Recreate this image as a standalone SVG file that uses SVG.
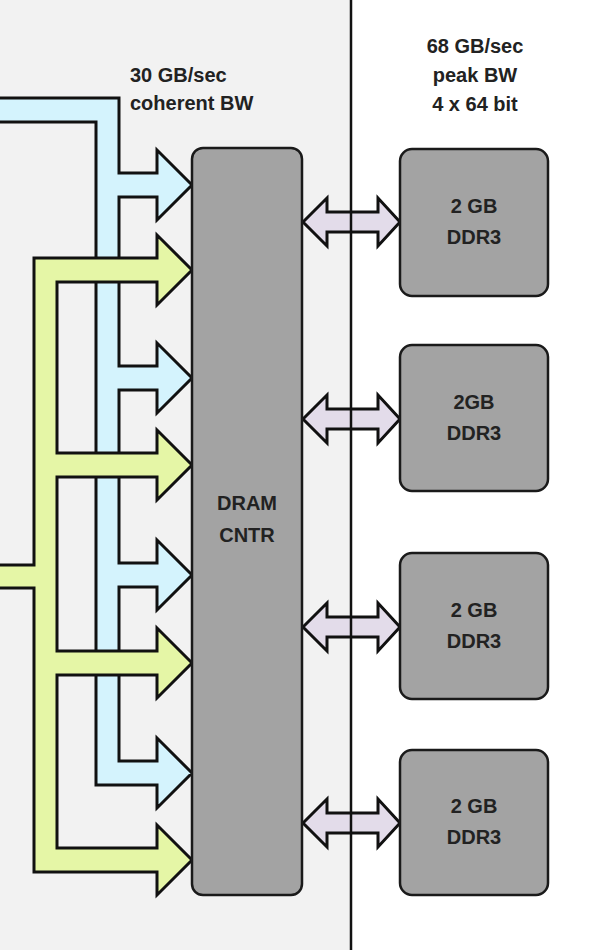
<svg xmlns="http://www.w3.org/2000/svg" width="600" height="950" viewBox="0 0 600 950">
<style>
.ln{stroke:#111;stroke-width:3;stroke-linejoin:miter}
.box{fill:#a3a3a3;stroke:#1a1a1a;stroke-width:2.5}
.t{font-family:"Liberation Sans",Arial,sans-serif;font-weight:bold;font-size:20px;fill:#222;text-anchor:middle}
.da{fill:#e3dcea;stroke:#111;stroke-width:3}
</style>
<rect x="0" y="0" width="351" height="950" fill="#f2f2f2"/>
<rect x="351" y="0" width="249" height="950" fill="#fff"/>
<g id="connectors">
<polygon class="ln" fill="#d4f3fd" points="-5,98 119,98 119,173 157,173 157,150 192,185 157,220 157,197 119,197 119,366 157,366 157,343 192,378 157,413 157,390 119,390 119,563 157,563 157,540 192,575 157,610 157,587 119,587 119,761 157,761 157,738 192,773 157,808 157,785 96,785 96,122 -5,122"/>
<polygon class="ln" fill="#e5f6a6" points="34,258 157,258 157,235 192,270 157,305 157,282 57,282 57,453 157,453 157,430 192,465 157,500 157,477 57,477 57,651 157,651 157,628 192,663 157,698 157,675 57,675 57,848 157,848 157,825 192,860 157,895 157,872 34,872 34,588 -5,588 -5,565 34,565"/>
<polygon class="da" points="303,222 327,198 327,212 378,212 378,198 400,222 378,246 378,232 327,232 327,246"/>
<polygon class="da" points="303,419 327,395 327,409 378,409 378,395 400,419 378,443 378,429 327,429 327,443"/>
<polygon class="da" points="303,627 327,603 327,617 378,617 378,603 400,627 378,651 378,637 327,637 327,651"/>
<polygon class="da" points="303,823 327,799 327,813 378,813 378,799 400,823 378,847 378,833 327,833 327,847"/>
</g>
<line x1="351" y1="0" x2="351" y2="950" stroke="#111" stroke-width="2.5"/>
<g id="labels">
<text class="t" x="130" y="82" text-anchor="start" style="text-anchor:start">30 GB/sec</text>
<text class="t" x="130" y="110" style="text-anchor:start">coherent BW</text>
<text class="t" x="475" y="53">68 GB/sec</text>
<text class="t" x="475" y="82">peak BW</text>
<text class="t" x="475" y="111">4 x 64 bit</text>
</g>
<g id="dram"><rect class="box" x="192" y="148" width="110" height="747" rx="11"/><text class="t" x="247" y="510">DRAM</text><text class="t" x="247" y="542">CNTR</text></g>
<g id="ddr1"><rect class="box" x="400" y="149" width="148" height="147" rx="12"/><text class="t" x="474" y="213">2 GB</text><text class="t" x="474" y="244">DDR3</text></g>
<g id="ddr2"><rect class="box" x="400" y="345" width="148" height="146" rx="12"/><text class="t" x="474" y="409">2GB</text><text class="t" x="474" y="440">DDR3</text></g>
<g id="ddr3"><rect class="box" x="400" y="553" width="148" height="146" rx="12"/><text class="t" x="474" y="617">2 GB</text><text class="t" x="474" y="648">DDR3</text></g>
<g id="ddr4"><rect class="box" x="400" y="750" width="148" height="145" rx="12"/><text class="t" x="474" y="813">2 GB</text><text class="t" x="474" y="844">DDR3</text></g>
</svg>
